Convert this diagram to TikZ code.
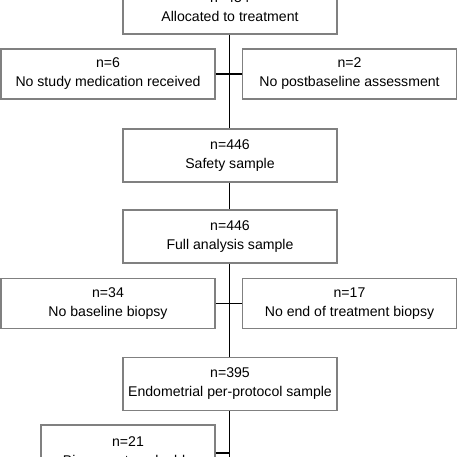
\documentclass[tikz,border=0pt]{standalone}
\usepackage{fontspec}
\setmainfont{Liberation Sans}
\begin{document}
\begin{tikzpicture}[x=1pt,y=1pt,
  box/.style={draw={rgb,255:red,128;green,128;blue,128}, line width=1.2pt, fill=white,
    inner sep=0pt, align=center, font=\fontsize{14.1}{19}\selectfont},
  mainbox/.style={box, minimum width=214pt, minimum height=53pt},
  sidebox/.style={box, minimum width=214pt, minimum height=50pt},
  conn/.style={draw=black, line width=1.8pt}]
\useasboundingbox (0,0) rectangle (457,-457);
\clip (0,0) rectangle (457,-457);
\node[mainbox] (alloc) at (230,-7.5) {n=454\\Allocated to treatment};
\node[sidebox] (left1) at (108,-74) {n=6\\No study medication received};
\node[sidebox] (right1) at (349.5,-74) {n=2\\No postbaseline assessment};
\node[mainbox] (safety) at (230,-155.5) {n=446\\Safety sample};
\node[mainbox] (full) at (230,-236.5) {n=446\\Full analysis sample};
\node[sidebox] (left2) at (108,-303.5) {n=34\\No baseline biopsy};
\node[sidebox] (right2) at (349.5,-303.5) {n=17\\No end of treatment biopsy};
\node[mainbox] (endo) at (230,-384) {n=395\\Endometrial per-protocol sample};
\node[box, minimum width=174pt, minimum height=56pt] (bot) at (128,-453) {n=21\\Biopsy not evaluable};
\coordinate (tend) at (229.5,-480);
\draw[conn] (alloc.south -| 229.5,0) -- (safety.north -| 229.5,0);
\draw[conn] (left1.east) -- (right1.west);
\draw[conn] (safety.south -| 229.5,0) -- (full.north -| 229.5,0);
\draw[conn] (full.south -| 229.5,0) -- (endo.north -| 229.5,0);
\draw[conn] (left2.east) -- (right2.west);
\draw[conn] (endo.south -| 229.5,0) -- (tend);
\draw[conn] (bot.east) -- (bot.east -| tend);
\end{tikzpicture}
\end{document}
